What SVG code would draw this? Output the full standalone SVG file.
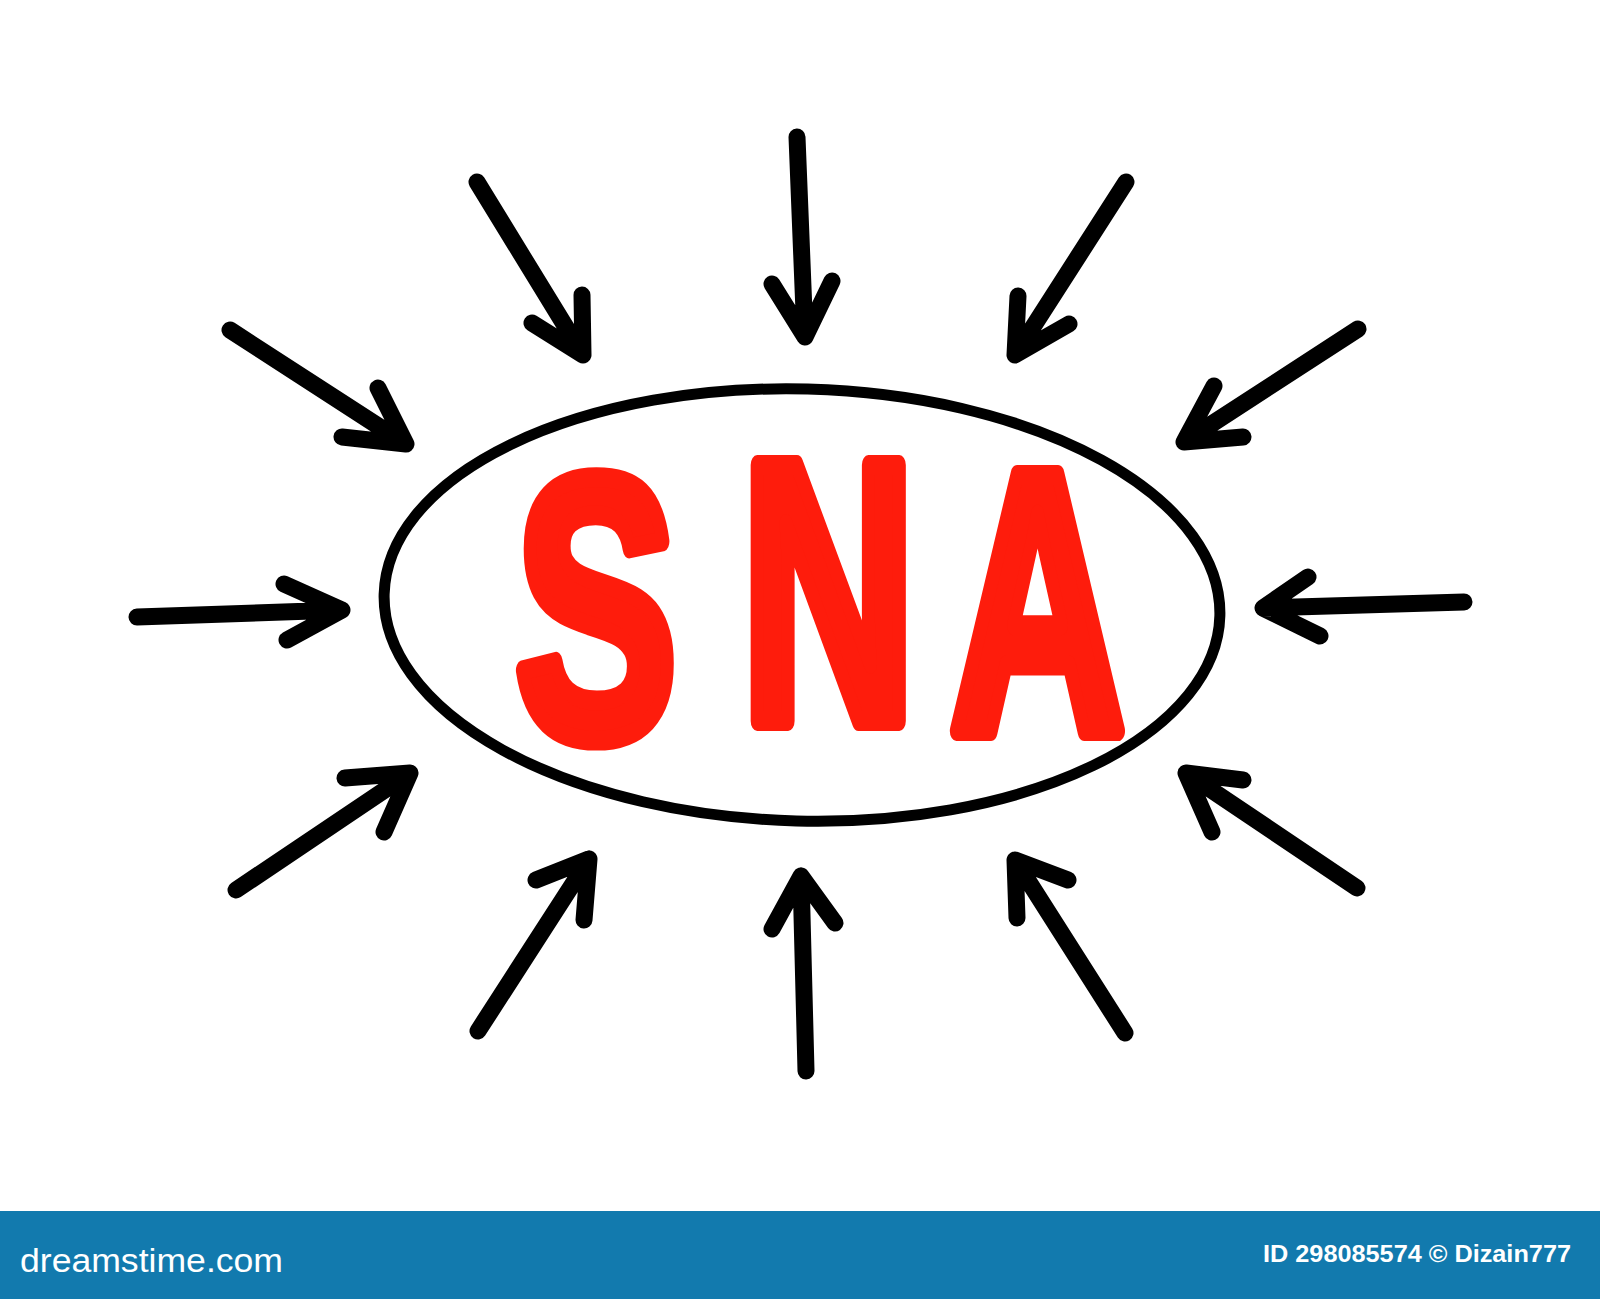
<svg xmlns="http://www.w3.org/2000/svg" width="1600" height="1299" viewBox="0 0 1600 1299">
<style>
.arr{fill:none;stroke:#000;stroke-width:17;stroke-linecap:round;stroke-linejoin:round}
.ell{fill:#fff;stroke:#000;stroke-width:11}
.big{font-family:"Liberation Sans",Arial,sans-serif;font-weight:bold;fill:#fe1c0c;stroke:#fe1c0c;stroke-width:20;stroke-linejoin:round}
.wm{font-family:"Liberation Sans",Arial,sans-serif;fill:#fff}
</style>
<rect width="1600" height="1299" fill="#fff"/>
<g id="connectors">
<path class="arr" d="M797,137 L805,337 M772,284 L805,337 L832,281"/>
<path class="arr" d="M477,182 L583,355 M532,323 L583,355 L582,295"/>
<path class="arr" d="M1126,182 L1015,355 M1069,324 L1015,355 L1018,296"/>
<path class="arr" d="M230,330 L406,444 M342,437 L406,444 L378,388"/>
<path class="arr" d="M1358,329 L1184,442 M1214,386 L1184,442 L1243,437"/>
<path class="arr" d="M137,617 L342,610 M284,584 L342,610 L287,640"/>
<path class="arr" d="M1464,602 L1263,608 M1308,577 L1263,608 L1320,636"/>
<path class="arr" d="M236,890 L410,773 M345,778 L410,773 L384,832"/>
<path class="arr" d="M1357,888 L1186,773 M1243,780 L1186,773 L1212,832"/>
<path class="arr" d="M478,1031 L589,859 M536,880 L589,859 L584,920"/>
<path class="arr" d="M806,1071 L801,876 M772,929 L801,876 L835,923"/>
<path class="arr" d="M1125,1033 L1015,860 M1017,918 L1015,860 L1068,880"/>
</g>
<g id="sna">
<ellipse class="ell" cx="802" cy="605" rx="418" ry="216" transform="rotate(1.5 802 605)"/>
<text class="big" transform="scale(0.65 1)" font-size="372"><tspan x="793" y="737">S</tspan><tspan x="1140" y="721">N</tspan><tspan x="1462" y="731">A</tspan></text>
</g>
<g id="footer">
<rect x="0" y="1211" width="1600" height="88" fill="#127aae"/>
<text class="wm" x="20" y="1272" font-size="34" textLength="263" lengthAdjust="spacingAndGlyphs">dreamstime.com</text>
<text class="wm" x="1263" y="1262" font-size="24" font-weight="bold" textLength="308" lengthAdjust="spacingAndGlyphs">ID 298085574 © Dizain777</text>
</g>
</svg>
